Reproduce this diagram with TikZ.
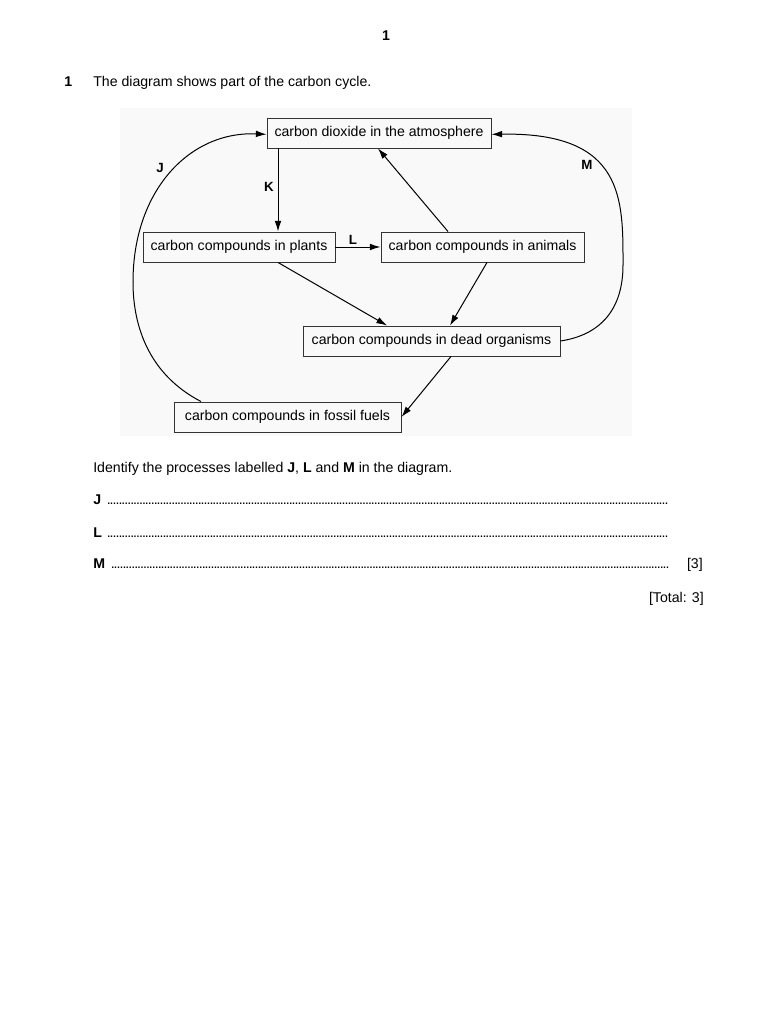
\documentclass[tikz,border=0pt]{standalone}
\usepackage{fontspec}
\setmainfont{Liberation Sans}
\usetikzlibrary{arrows.meta}
\newcommand\dotrow[1]{\hbox to #1{\leaders\hbox to 2.2pt{\hss.\hss}\hfill}}
\tikzset{
  txt/.style={inner sep=0pt, font=\fontsize{10.6}{13}\selectfont},
  box/.style={draw=black!80, line width=0.7pt, minimum height=22.5pt, inner sep=0pt, font=\fontsize{10.6}{13}\selectfont},
  lbl/.style={inner sep=0pt, font=\fontsize{10}{12}\selectfont\bfseries},
  arr/.style={line width=0.75pt, -{Latex[length=8pt,width=5pt]}},
  curve/.style={line width=0.75pt}
}
\begin{document}
\begin{tikzpicture}[x=0.75pt,y=-0.75pt]
\useasboundingbox (0,0) rectangle (768,1024);
\fill[white] (0,0) rectangle (768,1024);
\fill[black!2.5] (120,108) rectangle (632,436);
% header text
\node[txt, anchor=base, font=\fontsize{10.6}{13}\selectfont\bfseries] (pg) at (386,41) {1};
\node[txt, anchor=base west, font=\fontsize{10.6}{13}\selectfont\bfseries] (qn) at (64,86) {1};
\node[txt, anchor=base west] (q) at (93,86) {The diagram shows part of the carbon cycle.};
% boxes
\node[box, minimum width=168pt] (co2) at (379,133) {carbon dioxide in the atmosphere};
\node[box, minimum width=144pt] (plants) at (239,247) {carbon compounds in plants};
\node[box, minimum width=152.25pt] (animals) at (482.5,247) {carbon compounds in animals};
\node[box, minimum width=192.75pt] (dead) at (431.5,341) {carbon compounds in dead organisms};
\node[box, minimum width=170.25pt] (fossil) at (287.5,417) {carbon compounds in fossil fuels};
% helper x positions
\coordinate (kx) at (278,0);
\coordinate (ax1) at (448,0);
\coordinate (ax2) at (378,0);
\coordinate (dx1) at (387,0);
\coordinate (ax3) at (487,0);
\coordinate (dx2) at (450,0);
\coordinate (dx3) at (451,0);
\coordinate (jx) at (201,0);
\coordinate (jl) at (133,282);
\coordinate (mr) at (623,265);
% arrows
\draw[arr] (co2.south -| kx) -- (plants.north -| kx);
\draw[arr] (plants.east) -- (animals.west);
\draw[arr] (animals.north -| ax1) -- (co2.south -| ax2);
\draw[arr] (plants.south -| kx) -- (dead.north -| dx1);
\draw[arr] (animals.south -| ax3) -- (dead.north -| dx2);
\draw[arr] (dead.south -| dx3) -- (fossil.east);
\draw[curve] (fossil.north -| jx) .. controls (150,375) and (133,328) .. (jl);
\draw[arr] (jl) .. controls (133,190) and (190,131) .. ([yshift=-1]co2.west);
\draw[curve] (dead.east) .. controls (600,335) and (623,310) .. (mr);
\draw[arr] (mr) .. controls (623,200) and (625,132) .. ([yshift=-1]co2.east);
% labels
\node[lbl] (J) at (160,168) {J};
\node[lbl] (K) at (269,187) {K};
\node[lbl] (L) at (353,240) {L};
\node[lbl] (M) at (587,165) {M};
% question
\node[txt, anchor=base west] (id) at (93,472) {Identify the processes labelled \textbf{J}, \textbf{L} and \textbf{M} in the diagram.};
\node[txt, anchor=base west, font=\fontsize{10.6}{13}\selectfont\bfseries] (aj) at (93,504) {J};
\node[txt, anchor=base west] (dj) at (107,504) {\dotrow{421.5pt}};
\node[txt, anchor=base west, font=\fontsize{10.6}{13}\selectfont\bfseries] (al) at (93,537) {L};
\node[txt, anchor=base west] (dl) at (107,537) {\dotrow{421.5pt}};
\node[txt, anchor=base west, font=\fontsize{10.6}{13}\selectfont\bfseries] (am) at (93,568) {M};
\node[txt, anchor=base west] (dm) at (111,568) {\dotrow{418.5pt}};
\node[txt, anchor=base east] (mk) at (703,568) {[3]};
\node[txt, anchor=base east] (tot) at (704,602) {[Total: 3]};
\end{tikzpicture}
\end{document}
